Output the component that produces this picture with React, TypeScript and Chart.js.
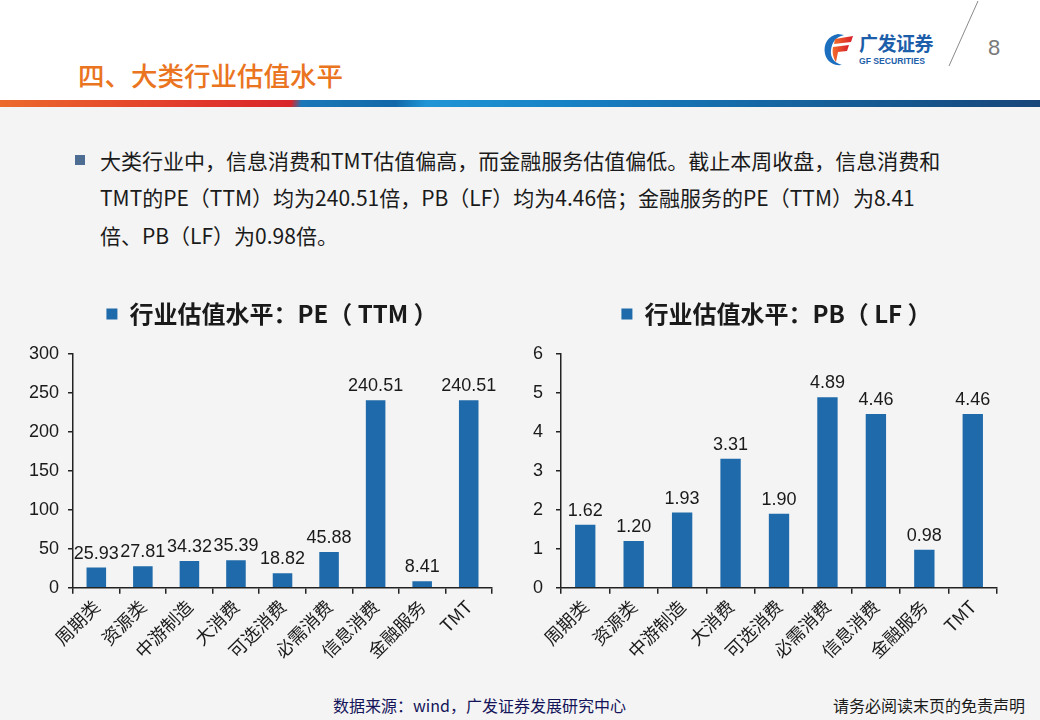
import React, { useEffect, useRef } from "react";
import { Chart, registerables } from "chart.js";

Chart.register(...registerables);

const categories = ["周期类", "资源类", "中游制造", "大消费", "可选消费", "必需消费", "信息消费", "金融服务", "TMT"];
const peValues = [25.93, 27.81, 34.32, 35.39, 18.82, 45.88, 240.51, 8.41, 240.51];
const pbValues = [1.62, 1.2, 1.93, 3.31, 1.9, 4.89, 4.46, 0.98, 4.46];
const peTitle = "行业估值水平：PE（ TTM ）";
const pbTitle = "行业估值水平：PB（ LF ）";
const peTicks = { min: 0, max: 300, step: 50 };
const pbTicks = { min: 0, max: 6, step: 1 };

const BAR = "#1f6aaa";
const AXIS = "#222222";
const LATIN = "'Liberation Sans', Arial, sans-serif";
const CJK = "'Noto Sans CJK SC', 'Noto Sans', sans-serif";

const valueLabels = {
  id: "valueLabels",
  afterDatasetsDraw(chart: any) {
    const ctx = chart.ctx;
    const meta = chart.getDatasetMeta(0);
    const data = chart.data.datasets[0].data as number[];
    ctx.save();
    ctx.font = `18px ${LATIN}`;
    ctx.fillStyle = "#1a1a1a";
    ctx.textAlign = "center";
    ctx.textBaseline = "alphabetic";
    meta.data.forEach((bar: any, i: number) => {
      ctx.fillText(data[i].toFixed(2), bar.x, bar.y - 9);
    });
    ctx.restore();
  },
};

function legendTweak(extraHeight: number, shiftX: number) {
  return {
    id: "legendTweak",
    beforeInit(chart: any) {
      const legend = chart.legend;
      if (!legend) return;
      const origFit = legend.fit;
      legend.fit = function () {
        origFit.call(this);
        this.height += extraHeight;
      };
      const origDraw = legend.draw;
      legend.draw = function () {
        const ctx = chart.ctx;
        ctx.save();
        ctx.translate(shiftX, 0);
        origDraw.call(this);
        ctx.restore();
      };
    },
  };
}

function BarChart(props: {
  title: string;
  values: number[];
  ticks: { min: number; max: number; step: number };
  padLeft: number;
  padRight: number;
  tickPad: number;
  legendShift: number;
  style: React.CSSProperties;
}) {
  const ref = useRef<HTMLCanvasElement | null>(null);
  useEffect(() => {
    if (!ref.current) return;
    const chart = new Chart(ref.current, {
      type: "bar",
      data: {
        labels: categories,
        datasets: [
          {
            label: props.title,
            data: props.values,
            backgroundColor: BAR,
            borderWidth: 0,
            categoryPercentage: 1,
            barPercentage: 0.42,
          },
        ],
      },
      options: {
        responsive: false,
        animation: false,
        layout: { padding: { left: props.padLeft, right: props.padRight, top: 8, bottom: 0 } },
        plugins: {
          legend: {
            display: true,
            position: "top",
            labels: {
              boxWidth: 11,
              boxHeight: 11,
              color: "#1a1a1a",
              font: { family: CJK, size: 24, weight: "bold" },
              padding: 37,
            },
          },
          tooltip: { enabled: false },
        },
        scales: {
          x: {
            border: { display: true, color: AXIS, width: 1.5 },
            grid: { display: true, drawOnChartArea: false, drawTicks: true, tickLength: 6, color: AXIS, lineWidth: 1.5, offset: true },
            ticks: {
              color: "#1a1a1a",
              font: { family: CJK, size: 18 },
              minRotation: 45,
              maxRotation: 45,
              autoSkip: false,
              padding: 2,
            },
          },
          y: {
            min: props.ticks.min,
            max: props.ticks.max,
            border: { display: true, color: AXIS, width: 1.5 },
            grid: { display: true, drawOnChartArea: false, drawTicks: true, tickLength: 5, color: AXIS, lineWidth: 1.5 },
            ticks: {
              stepSize: props.ticks.step,
              color: "#1a1a1a",
              font: { family: LATIN, size: 18 },
              padding: props.tickPad,
            },
          },
        },
      },
      plugins: [valueLabels, legendTweak(18, props.legendShift)],
    });
    return () => chart.destroy();
  }, []);
  return (
    <div style={{ position: "absolute", ...props.style }}>
      <canvas ref={ref} width={490} height={407} style={{ width: 490, height: 407, display: "block" }} />
    </div>
  );
}

function Logo() {
  return (
    <svg width={120} height={40} viewBox="0 0 120 40" style={{ position: "absolute", left: 822, top: 30 }}>
      <defs>
        <linearGradient id="lgRed" x1="0" y1="0" x2="1" y2="0">
          <stop offset="0" stopColor="#f26b2a" />
          <stop offset="1" stopColor="#d8202b" />
        </linearGradient>
      </defs>
      <path d="M16 4 C6 6 1 14 3 24 C5 32 12 36 20 35 C12 33 8 27 9 20 C10 12 14 7 22 5 Z" fill="#1b6fbe" />
      <path d="M13 9 L31 6 L29 12 L12 14 Z" fill="url(#lgRed)" />
      <path d="M11 17 L27 15 L25 21 L16 22 L14 32 C11 28 10 22 11 17 Z" fill="url(#lgRed)" />
      <text x={37} y={21} fontFamily={CJK} fontWeight="bold" fontSize={19} fill="#1c5ea9" letterSpacing={-0.5}>广发证券</text>
      <text x={37} y={34} fontFamily={LATIN} fontWeight="bold" fontSize={8.6} fill="#1c5ea9">GF SECURITIES</text>
    </svg>
  );
}

export default function App() {
  const lineStyle: React.CSSProperties = {
    position: "absolute",
    left: 100,
    whiteSpace: "nowrap",
    fontFamily: CJK,
    fontSize: 21,
    color: "#1a1a1a",
    lineHeight: "24px",
  };
  return (
    <div style={{ position: "relative", width: 1040, height: 720, background: "#f4f4f4", overflow: "hidden" }}>
      <style>{"body{margin:0}"}</style>
      <div style={{ position: "absolute", left: 0, top: 0, width: 1040, height: 100, background: "#ffffff" }} />
      <div
        style={{
          position: "absolute",
          left: 0,
          top: 100,
          width: 1040,
          height: 7,
          background:
            "linear-gradient(100deg, #ec6a2c 0%, #e0352b 20%, #d8252b 28%, #1a78b8 29%, #1268a8 38%, #1f95d6 41%, #1680c4 55%, #155e98 80%, #17467a 100%)",
        }}
      />
      <div
        style={{
          position: "absolute",
          left: 78,
          top: 58,
          fontFamily: CJK,
          fontSize: 26.5,
          fontWeight: 500,
          color: "#ea7420",
          whiteSpace: "nowrap",
          lineHeight: "34px",
        }}
      >
        四、大类行业估值水平
      </div>
      <Logo />
      <svg width={60} height={80} style={{ position: "absolute", left: 940, top: 0 }}>
        <line x1={38} y1={1} x2={9} y2={66} stroke="#8a8a8a" strokeWidth={1} />
      </svg>
      <div style={{ position: "absolute", left: 988, top: 34, fontFamily: LATIN, fontSize: 22, color: "#7a7a7a", lineHeight: "28px" }}>8</div>

      <div style={{ position: "absolute", left: 75, top: 155, width: 10, height: 10, background: "#4d6d92" }} />
      <div style={{ ...lineStyle, top: 148 }}>大类行业中，信息消费和TMT估值偏高，而金融服务估值偏低。截止本周收盘，信息消费和</div>
      <div style={{ ...lineStyle, top: 185 }}>TMT的PE（TTM）均为240.51倍，PB（LF）均为4.46倍；金融服务的PE（TTM）为8.41</div>
      <div style={{ ...lineStyle, top: 223 }}>倍、PB（LF）为0.98倍。</div>

      <BarChart title={peTitle} values={peValues} ticks={peTicks} padLeft={0} padRight={18} tickPad={9} legendShift={16} style={{ left: 20, top: 257 }} />
      <BarChart title={pbTitle} values={pbValues} ticks={pbTicks} padLeft={0} padRight={13} tickPad={13} legendShift={18} style={{ left: 520, top: 257 }} />

      <div style={{ position: "absolute", left: 333, top: 695, fontFamily: CJK, fontSize: 16, color: "#14145a", whiteSpace: "nowrap", lineHeight: "20px" }}>
        数据来源：wind，广发证券发展研究中心
      </div>
      <div style={{ position: "absolute", left: 833, top: 695, fontFamily: CJK, fontSize: 16, color: "#1a1a1a", whiteSpace: "nowrap", lineHeight: "20px" }}>
        请务必阅读末页的免责声明
      </div>
    </div>
  );
}
